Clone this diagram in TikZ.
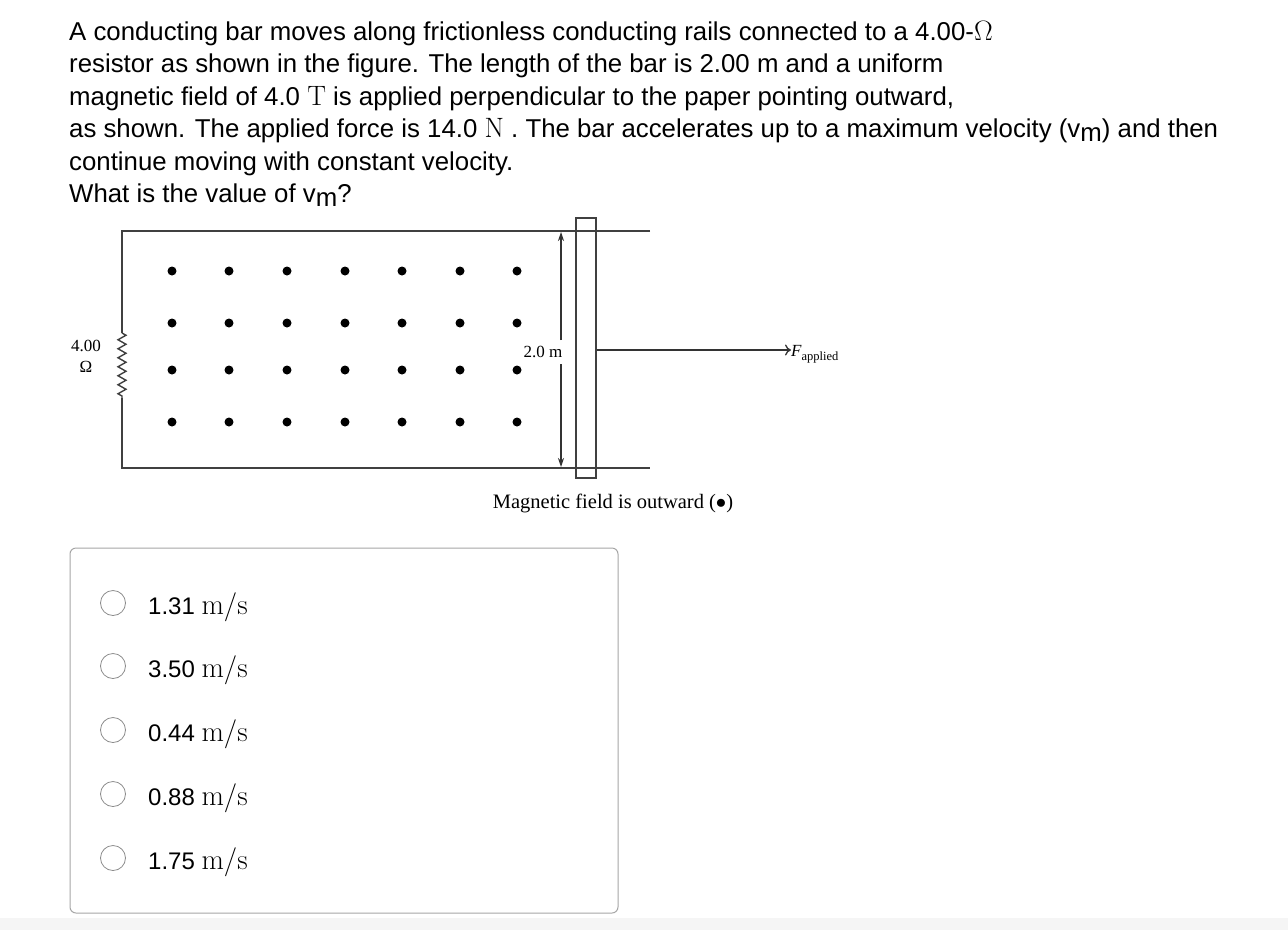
\documentclass[tikz,border=0pt]{standalone}
\usepackage{fontspec}
\setmainfont{Liberation Sans}
\newfontfamily\figfont{Liberation Serif}
\newfontfamily\lmr{Latin Modern Roman}
\usetikzlibrary{decorations.pathmorphing,arrows.meta}
\begin{document}
\begin{tikzpicture}[x=1pt,y=-1pt,
  qtext/.style={anchor=base west,inner sep=0,font=\fontsize{25.8}{30}\selectfont},
  wire/.style={draw=black!75,line width=1.4pt},
  fdot/.style={circle,fill=black,inner sep=0,minimum size=9pt},
  radio/.style={circle,draw=black!45,line width=0.8pt,minimum size=25pt,inner sep=0},
  ans/.style={anchor=base west,inner sep=0,font=\fontsize{24}{28}\selectfont}]
\useasboundingbox (0,0) rectangle (1288,930);
\fill[white] (0,0) rectangle (1288,930);
\fill[black!4] (0,918) rectangle (1288,930);
% question
\node[qtext] (l1) at (69,40) {A conducting bar moves along frictionless conducting rails connected to a 4.00-{\lmr\fontsize{28}{30}\selectfont Ω}};
\node[qtext] (l2) at (69,72) {resistor as shown in the figure. The length of the bar is 2.00 m and a uniform};
\node[qtext] (l3) at (69,105) {magnetic field of 4.0 {\lmr\fontsize{28}{30}\selectfont T} is applied perpendicular to the paper pointing outward,};
\node[qtext] (l4) at (69,137) {as shown. The applied force is 14.0 {\lmr\fontsize{28}{30}\selectfont N} . The bar accelerates up to a maximum velocity (v\raisebox{-0.3ex}{m}) and then};
\node[qtext] (l5) at (69,170) {continue moving with constant velocity.};
\node[qtext] (l6) at (69,202) {What is the value of v\raisebox{-0.3ex}{m}?};
% circuit
\coordinate (tl) at (122,231); \coordinate (tr) at (650,231);
\coordinate (bl) at (122,468); \coordinate (br) at (650,468);
\draw[wire] (tr) -- (tl) -- (122,333);
\draw[wire,decorate,decoration={zigzag,segment length=9pt,amplitude=4pt}] (122,333) -- (122,398);
\draw[wire] (122,398) -- (bl) -- (br);
\node[font=\figfont\fontsize{17}{19}\selectfont,align=center,inner sep=0] (rl) at (86,356) {4.00\\[2pt]Ω};
\foreach \x in {172,229,287,345,402,460,517}
  \foreach \y in {271,323,370,422}
    \node[fdot] at (\x,\y) {};
\node[draw=black!75,line width=1.4pt,minimum width=20pt,minimum height=260pt,inner sep=0] (bar) at (586,348) {};
\coordinate (at) at (561,232); \coordinate (ab) at (561,467);
\node[fill=white,inner sep=1pt,font=\figfont\fontsize{17}{19}\selectfont] (dim) at (543,352) {2.0 m};
\draw[black!80,line width=1.1pt,-{Stealth[length=9pt,width=6pt]}] (561,340) -- (at);
\draw[black!80,line width=1.1pt,-{Stealth[length=9pt,width=6pt]}] (561,364) -- (ab);
\node[anchor=west,inner sep=0,font=\figfont\itshape\fontsize{17}{19}\selectfont] (F) at (791,354) {F\raisebox{-0.5ex}{\upshape\fontsize{12.5}{14}\selectfont applied}};
\draw[black!80,line width=1.3pt,-{To[length=6pt,width=11pt]}] (bar.east |- 0,350) -- (F.west |- 0,350);
\node[font=\figfont\fontsize{20.5}{23}\selectfont,inner sep=0] (cap) at (613,503) {Magnetic field is outward ($\bullet$)};
% answers
\draw[black!35,line width=1pt,rounded corners=6pt] (70,548) rectangle (618,913);
\foreach \y/\v [count=\i] in {606/1.31,669/3.50,733/0.44,797/0.88,861/1.75}{
  \node[radio] (c\i) at (113,\y-3) {};
  \node[ans] (a\i) at (148,\y+8) {\v\ {\lmr\fontsize{29}{30}\selectfont m/s}};
}
\end{tikzpicture}
\end{document}
